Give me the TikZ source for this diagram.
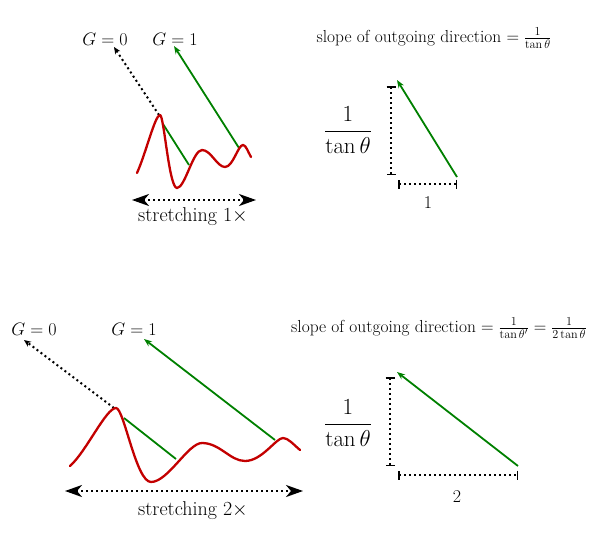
\RequirePackage{fix-cm}
\documentclass[tikz,border=0pt]{standalone}
\usetikzlibrary{arrows.meta}
\definecolor{dgreen}{RGB}{0,128,0}
\definecolor{dred}{RGB}{195,0,0}
\begin{document}
\begin{tikzpicture}[x=1pt,y=-1pt,
  lab/.style={font=\fontsize{18}{21}\selectfont, inner sep=0pt},
  stlab/.style={font=\fontsize{20}{23}\selectfont, inner sep=0pt},
  slopelab/.style={font=\fontsize{17.4}{20}\selectfont, inner sep=0pt},
  fraclab/.style={font=\fontsize{23}{27}\selectfont, inner sep=0pt},
  redcurve/.style={dred, line width=2.3pt, line join=round, line cap=round},
  gline/.style={dgreen, line width=1.8pt},
  garrow/.style={gline, -{Stealth[length=8pt,width=6pt]}},
  dotline/.style={line width=2pt, dash pattern=on 2pt off 3pt},
  darrow/.style={dotline, -{Stealth[length=7pt,width=6pt]}},
  stretcharrow/.style={dotline, {Stealth[length=17pt,width=12pt,inset=5pt]}-{Stealth[length=17pt,width=12pt,inset=5pt]}},
  dimline/.style={line width=1.8pt, dash pattern=on 2pt off 3pt, {Bar[width=9pt,line width=1.5pt]}-{Bar[width=9pt,line width=1.5pt]}}
]
\useasboundingbox (0,0) rectangle (600,533);

% ---------- top panel ----------
\node[lab] (g0a) at (105,39) {$G=0$};
\node[lab] (g1a) at (175,39) {$G=1$};
\coordinate (pka) at (159,115);
\coordinate (tipa0) at (114,47);
\coordinate (gtaila) at (239,148);
\coordinate (gtipa) at (174,46);
\coordinate (gsa1) at (163,124);
\coordinate (gsa2) at (189,165);
\draw[gline] (gsa1) -- (gsa2);
\draw[garrow] (gtaila) -- (gtipa);
\draw[darrow] (pka) -- (tipa0);
\draw[redcurve] (137,173) .. controls (146,153) and (155,115) .. (160,115)
  .. controls (164,115) and (169,188) .. (177,188)
  .. controls (185,188) and (193,150) .. (202,150)
  .. controls (211,150) and (217,167) .. (225,167)
  .. controls (233,167) and (238,145) .. (243,145)
  .. controls (246,145) and (248,152) .. (251,157);
\coordinate (sa1) at (132,200);
\coordinate (sa2) at (256,200);
\draw[stretcharrow] (sa1) -- (sa2);
\node[stlab] (sta) at (193,217) {stretching $1\times$};

\node[slopelab] (sla) at (434,38) {slope of outgoing direction $=\frac{1}{\tan\theta}$};
\coordinate (va1) at (391,86);
\coordinate (va2) at (391,175);
\draw[dimline] (va1) -- (va2);
\coordinate (ha1) at (398,184);
\coordinate (ha2) at (457,184);
\draw[dimline] (ha1) -- (ha2);
\coordinate (gra1) at (457,177);
\coordinate (gra2) at (397,80);
\draw[garrow] (gra1) -- (gra2);
\node[fraclab] (fa) at (348,130) {$\displaystyle\frac{1}{\tan\theta}$};
\node[lab] (onea) at (428,203) {$1$};

% ---------- bottom panel ----------
\node[lab] (g0b) at (34,329) {$G=0$};
\node[lab] (g1b) at (134,329) {$G=1$};
\coordinate (pkb) at (114,408);
\coordinate (tipb0) at (24,340);
\coordinate (gtailb) at (275,440);
\coordinate (gtipb) at (144,339);
\coordinate (gsb1) at (124,418);
\coordinate (gsb2) at (176,459);
\draw[gline] (gsb1) -- (gsb2);
\draw[garrow] (gtailb) -- (gtipb);
\draw[darrow] (pkb) -- (tipb0);
\draw[redcurve] (70,466) .. controls (86,452) and (106,408) .. (116,408)
  .. controls (124,408) and (136,482) .. (151,482)
  .. controls (168,482) and (188,443) .. (202,443)
  .. controls (220,443) and (230,461) .. (245,461)
  .. controls (262,461) and (276,438) .. (283,438)
  .. controls (288,438) and (293,444) .. (300,450);
\coordinate (sb1) at (65,491);
\coordinate (sb2) at (303,491);
\draw[stretcharrow] (sb1) -- (sb2);
\node[stlab] (stb) at (193,511) {stretching $2\times$};

\node[slopelab] (slb) at (439,328) {slope of outgoing direction $=\frac{1}{\tan\theta'}=\frac{1}{2\tan\theta}$};
\coordinate (vb1) at (390,377);
\coordinate (vb2) at (390,466);
\draw[dimline] (vb1) -- (vb2);
\coordinate (hb1) at (398,475);
\coordinate (hb2) at (518,475);
\draw[dimline] (hb1) -- (hb2);
\coordinate (grb1) at (518,466);
\coordinate (grb2) at (397,372);
\draw[garrow] (grb1) -- (grb2);
\node[fraclab] (fb) at (348,423) {$\displaystyle\frac{1}{\tan\theta}$};
\node[lab] (twob) at (457,497) {$2$};
\end{tikzpicture}
\end{document}
